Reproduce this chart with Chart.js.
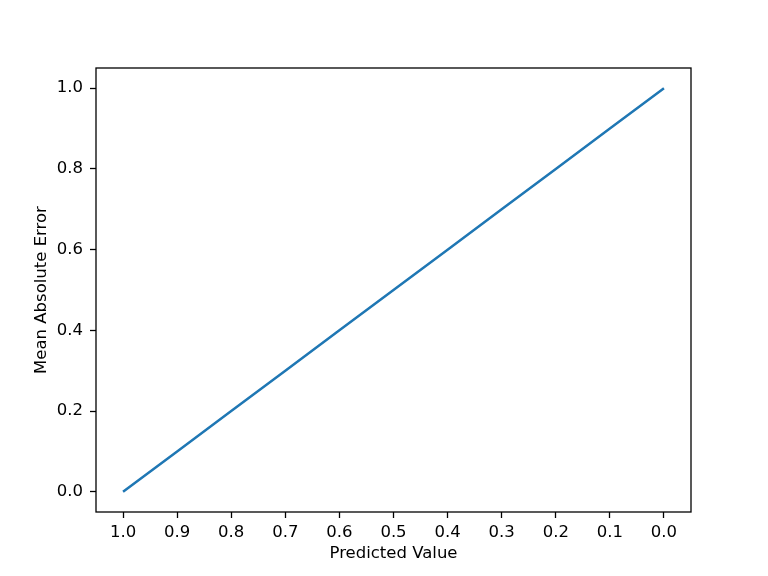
<!DOCTYPE html>
<html>
<head>
<meta charset="utf-8">
<script src="https://cdn.jsdelivr.net/npm/chart.js@4"></script>
<style>
  body { margin: 0; background: #fff; }
</style>
</head>
<body>
<canvas id="chart-mae" width="768" height="576"></canvas>
<script>
// values
var predicted = [1.0, 0.9, 0.8, 0.7, 0.6, 0.5, 0.4, 0.3, 0.2, 0.1, 0.0];
var mae = [0.0, 0.1, 0.2, 0.3, 0.4, 0.5, 0.6, 0.7, 0.8, 0.9, 1.0];
var xTicks = [1.0, 0.9, 0.8, 0.7, 0.6, 0.5, 0.4, 0.3, 0.2, 0.1, 0.0];
var yTicks = [0.0, 0.2, 0.4, 0.6, 0.8, 1.0];

var points = predicted.map(function(x, i) { return { x: x, y: mae[i] }; });

var fontTick = { family: 'DejaVu Sans', size: 16.5 };

// matplotlib style frame round the plot area
var frame = {
    id: 'frame',
    afterDraw: function(chart) {
        var a = chart.chartArea;
        var ctx = chart.ctx;
        ctx.save();
        ctx.strokeStyle = '#000';
        ctx.lineWidth = 1.3;
        ctx.strokeRect(a.left, a.top, a.right - a.left, a.bottom - a.top);
        ctx.restore();
    }
};

new Chart(document.getElementById('chart-mae'), {
    type: 'line',
    data: {
        datasets: [{
            data: points,
            borderColor: '#1f77b4',
            borderWidth: 2.5,
            pointRadius: 0,
            fill: false,
            tension: 0
        }]
    },
    options: {
        responsive: false,
        animation: false,
        layout: { padding: { top: 68, right: 77, left: 0, bottom: 0 } },
        plugins: {
            legend: { display: false },
            tooltip: { enabled: false }
        },
        scales: {
            x: {
                type: 'linear',
                reverse: true,
                min: -0.05,
                max: 1.05,
                afterBuildTicks: function(scale) {
                    scale.ticks = xTicks.map(function(v) { return { value: v }; });
                },
                afterFit: function(scale) { scale.height = 64; },
                ticks: {
                    color: '#000',
                    font: fontTick,
                    padding: 5,
                    maxRotation: 0,
                    callback: function(v) { return v.toFixed(1); }
                },
                grid: {
                    drawOnChartArea: false,
                    tickLength: 6,
                    tickWidth: 1.3,
                    tickColor: '#000'
                },
                border: { display: false },
                title: {
                    display: true,
                    text: 'Predicted Value',
                    color: '#000',
                    font: fontTick,
                    padding: { top: 0, bottom: 12 }
                }
            },
            y: {
                type: 'linear',
                min: -0.05,
                max: 1.05,
                afterBuildTicks: function(scale) {
                    scale.ticks = yTicks.map(function(v) { return { value: v }; });
                },
                afterFit: function(scale) { scale.width = 96; },
                ticks: {
                    color: '#000',
                    font: fontTick,
                    padding: 7,
                    callback: function(v) { return v.toFixed(1); }
                },
                grid: {
                    drawOnChartArea: false,
                    tickLength: 6,
                    tickWidth: 1.3,
                    tickColor: '#000'
                },
                border: { display: false },
                title: {
                    display: true,
                    text: 'Mean Absolute Error',
                    color: '#000',
                    font: fontTick,
                    padding: { top: 32, bottom: 0 }
                }
            }
        }
    },
    plugins: [frame]
});
</script>
</body>
</html>
